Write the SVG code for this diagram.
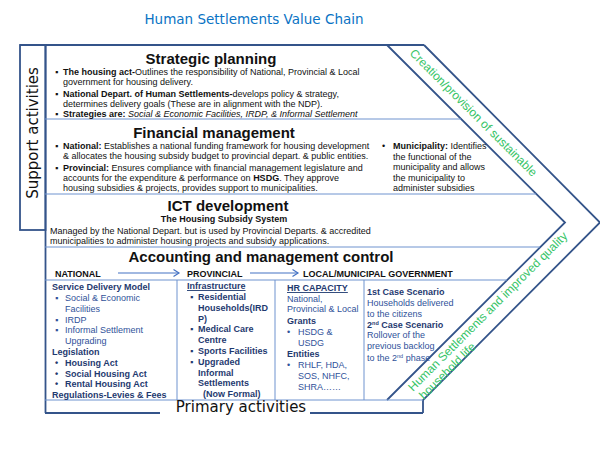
<svg xmlns="http://www.w3.org/2000/svg" width="600" height="450" viewBox="0 0 600 450">
<defs>
<marker id="arr" markerUnits="userSpaceOnUse" markerWidth="9" markerHeight="9" refX="7" refY="4.5" orient="auto">
<path d="M1.5,1 L7,4.5 L1.5,8" fill="none" stroke="#4472C4" stroke-width="1.2"/>
</marker>
</defs>
<style>
.t{font-family:"Liberation Sans",Arial,sans-serif;font-size:9px;fill:#111}
.b{font-weight:bold}
.i{font-style:italic}
.h{font-family:"Liberation Sans",Arial,sans-serif;font-size:15px;font-weight:bold;fill:#111;text-anchor:middle}
.dv{font-family:"DejaVu Sans",sans-serif;font-size:15px;fill:#111}
.frame{fill:none;stroke:#34548A;stroke-width:1.8}
.sep{fill:none;stroke:#6F93CF;stroke-width:1}
.nb{fill:#1F3A70;font-weight:bold}
.nn{fill:#30529A}
.u{text-decoration:underline}
.g{font-family:"Liberation Sans",Arial,sans-serif;font-size:12px;fill:#36C466}
.conn{stroke:#4472C4;stroke-width:1.2;fill:none}
</style>
<rect width="600" height="450" fill="#fff"/>

<g id="title">
<text x="254" y="24" text-anchor="middle" style="font-family:'DejaVu Sans',sans-serif;font-size:13.5px;fill:#0A73C4">Human Settlements Value Chain</text>
</g>

<g id="frame">
<path class="frame" d="M20,45 H424"/>
<rect class="frame" x="20" y="45" width="25.5" height="185"/>
<path class="frame" d="M45.5,45 V413"/>
<path class="frame" d="M387,45 L565,222.5 L387,400"/>
<path class="frame" d="M424,45 L600,222.5 L423,400 V413"/>
<path class="frame" d="M45,413 H160 M310,413 H423"/>
<path class="sep" d="M45,400 H423"/>
<path class="sep" d="M45,119 H461"/>
<path class="sep" d="M45,194 H536"/>
<path class="sep" d="M45,247 H540"/>
<path class="sep" d="M45,280 H507"/>
<path class="sep" d="M177,280 V400 M275,280 V400 M364,280 V400"/>
</g>

<g id="support">
<text class="dv" transform="translate(38,133) rotate(-90)" text-anchor="middle">Support activities</text>
</g>

<g id="primary">
<text class="dv" x="241" y="412" text-anchor="middle">Primary activities</text>
</g>

<g id="strategic">
<text class="h" x="211" y="64">Strategic planning</text>
<text class="t" y="75"><tspan x="55">▪</tspan><tspan x="63" class="b">The housing act-</tspan><tspan>Outlines the responsibility of National, Provincial &amp; Local</tspan></text>
<text class="t" x="63" y="85">government for housing delivery.</text>
<text class="t" y="96.5"><tspan x="55">▪</tspan><tspan x="63" class="b">National Depart. of Human Settlements-</tspan><tspan>develops policy &amp; strategy,</tspan></text>
<text class="t" x="63" y="106.5">determines delivery goals (These are in alignment with the NDP).</text>
<text class="t" y="116.5"><tspan x="55">▪</tspan><tspan x="63" class="b">Strategies are: </tspan><tspan class="i">Social &amp; Economic Facilities, IRDP, &amp; Informal Settlement</tspan></text>
</g>

<g id="financial">
<text class="h" x="214" y="138">Financial management</text>
<text class="t" y="149"><tspan x="55">▪</tspan><tspan x="63" class="b">National:</tspan><tspan> Establishes a national funding framework for housing development</tspan></text>
<text class="t" x="63" y="159">&amp; allocates the housing subsidy budget to provincial depart. &amp; public entities.</text>
<text class="t" y="170.5"><tspan x="55">▪</tspan><tspan x="63" class="b">Provincial:</tspan><tspan> Ensures compliance with financial management legislature and</tspan></text>
<text class="t" y="180.5"><tspan x="63">accounts for the expenditure &amp; performance on </tspan><tspan class="b">HSDG</tspan><tspan>. They approve</tspan></text>
<text class="t" x="63" y="191">housing subsidies &amp; projects, provides support to municipalities.</text>
</g>

<g id="municipality">
<text class="t" y="149"><tspan x="382">•</tspan><tspan x="393" class="b">Municipality:</tspan><tspan> Identifies</tspan></text>
<text class="t" x="393" y="159.5">the functional of the</text>
<text class="t" x="393" y="170">municipality and allows</text>
<text class="t" x="393" y="180.5">the municipality to</text>
<text class="t" x="393" y="191">administer subsidies</text>
</g>

<g id="ict">
<text class="h" x="228" y="211">ICT development</text>
<text class="t b" x="224" y="222" text-anchor="middle">The Housing Subsidy System</text>
<text class="t" x="50" y="233.5">Managed by the National Depart. but is used by Provincial Departs. &amp; accredited</text>
<text class="t" x="50" y="243.5">municipalities to administer housing projects and subsidy applications.</text>
</g>

<g id="accounting">
<text class="h" x="261" y="262">Accounting and management control</text>
</g>

<g id="hdr-national"><text class="t b" x="55" y="277">NATIONAL</text></g>
<g id="hdr-provincial"><text class="t b" x="187" y="277">PROVINCIAL</text></g>
<g id="hdr-local"><text class="t b" x="303" y="277">LOCAL/MUNICIPAL GOVERNMENT</text></g>

<g id="connectors">
<line class="conn" x1="118" y1="273" x2="179" y2="273" marker-end="url(#arr)"/>
<line class="conn" x1="250" y1="273" x2="298" y2="273" marker-end="url(#arr)"/>
</g>

<g id="col-national">
<text class="t nb" x="52" y="290">Service Delivery Model</text>
<text class="t nn" y="301"><tspan x="55">▪</tspan><tspan x="65">Social &amp; Economic</tspan></text>
<text class="t nn" x="65" y="311.8">Facilities</text>
<text class="t nn" y="322.6"><tspan x="55">▪</tspan><tspan x="65">IRDP</tspan></text>
<text class="t nn" y="333.4"><tspan x="55">▪</tspan><tspan x="65">Informal Settlement</tspan></text>
<text class="t nn" x="65" y="344.2">Upgrading</text>
<text class="t nb" x="52" y="355">Legislation</text>
<text class="t nb" y="365.8"><tspan x="55">•</tspan><tspan x="65">Housing Act</tspan></text>
<text class="t nb" y="376.6"><tspan x="55">•</tspan><tspan x="65">Social Housing Act</tspan></text>
<text class="t nb" y="387.4"><tspan x="55">•</tspan><tspan x="65">Rental Housing Act</tspan></text>
<text class="t nb" x="52" y="398.2">Regulations-Levies &amp; Fees</text>
</g>

<g id="col-provincial">
<text class="t nb u" x="187" y="289">Infrastructure</text>
<text class="t nb" y="300"><tspan x="190">▪</tspan><tspan x="198">Residential</tspan></text>
<text class="t nb" x="198" y="310.8">Households(IRD</text>
<text class="t nb" x="198" y="321.6">P)</text>
<text class="t nb" y="332.4"><tspan x="190">▪</tspan><tspan x="198">Medical Care</tspan></text>
<text class="t nb" x="198" y="343.2">Centre</text>
<text class="t nb" y="354"><tspan x="190">▪</tspan><tspan x="198">Sports Facilities</tspan></text>
<text class="t nb" y="364.8"><tspan x="190">▪</tspan><tspan x="198">Upgraded</tspan></text>
<text class="t nb" x="198" y="375.6">Informal</text>
<text class="t nb" x="198" y="386.4">Settlements</text>
<text class="t nb" x="203" y="397.2">(Now Formal)</text>
</g>

<g id="col-local-a">
<text class="t nb u" x="287" y="291">HR CAPACITY</text>
<text class="t nn" x="287" y="301.6">National,</text>
<text class="t nn" x="287" y="312.3">Provincial &amp; Local</text>
<text class="t nb" x="287" y="324.3">Grants</text>
<text class="t nn" y="335"><tspan x="287">•</tspan><tspan x="298">HSDG &amp;</tspan></text>
<text class="t nn" x="298" y="345.6">USDG</text>
<text class="t nb" x="287" y="357">Entities</text>
<text class="t nn" y="367.6"><tspan x="287">•</tspan><tspan x="298">RHLF, HDA,</tspan></text>
<text class="t nn" x="298" y="379">SOS, NHFC,</text>
<text class="t nn" x="298" y="390.3">SHRA……</text>
</g>

<g id="col-local-b">
<text class="t nb" x="367" y="295">1st Case Scenario</text>
<text class="t nn" x="367" y="305.5">Households delivered</text>
<text class="t nn" x="367" y="316.5">to the citizens</text>
<text class="t nb" x="367" y="327.5">2<tspan font-size="5.5" baseline-shift="super">nd</tspan> Case Scenario</text>
<text class="t nn" x="367" y="338">Rollover of the</text>
<text class="t nn" x="367" y="349">previous backlog</text>
<text class="t nn" x="367" y="360.5">to the 2<tspan font-size="5.5" baseline-shift="super">nd</tspan> phase</text>
</g>

<g id="margin">
<text class="g" transform="translate(409,54) rotate(45)">Creation/provision of sustainable</text>
<text class="g" transform="translate(413,392) rotate(-45)">Human Settlements and improved quality</text>
<text class="g" transform="translate(424,400) rotate(-45)">household life</text>
</g>
</svg>
